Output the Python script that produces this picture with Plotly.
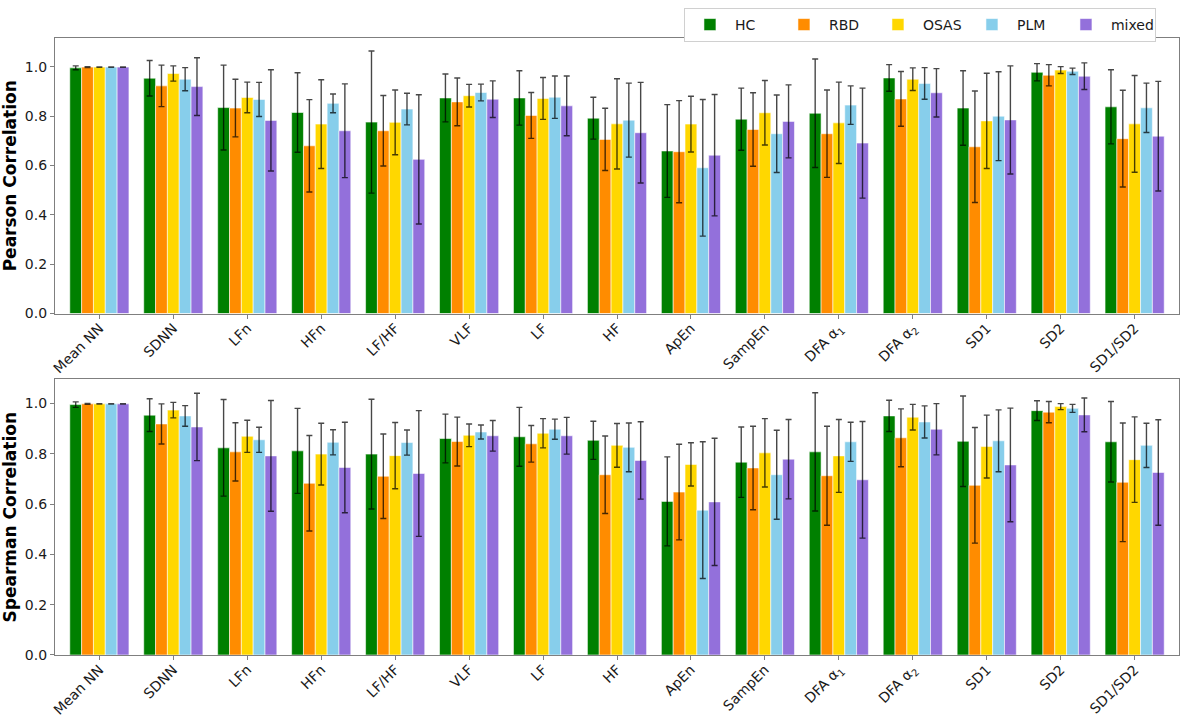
import plotly.graph_objects as go

categories = ["Mean NN", "SDNN", "LFn", "HFn", "LF/HF", "VLF", "LF", "HF", "ApEn",
              "SampEn", "DFA α<sub>1</sub>", "DFA α<sub>2</sub>", "SD1", "SD2", "SD1/SD2"]
groups = ["HC", "RBD", "OSAS", "PLM", "mixed"]
colors = ["#008000", "#FF8C00", "#FFD700", "#87CEEB", "#9370DB"]

# Pearson correlation (mean, std)
pearson_hc = [0.996, 0.954, 0.835, 0.815, 0.776, 0.874, 0.874, 0.792, 0.659, 0.788, 0.812, 0.955, 0.833, 0.978, 0.838]
pearson_hc_err = [0.008, 0.072, 0.172, 0.161, 0.288, 0.097, 0.110, 0.085, 0.188, 0.126, 0.220, 0.054, 0.151, 0.035, 0.150]
pearson_rbd = [0.999, 0.923, 0.833, 0.680, 0.741, 0.858, 0.803, 0.706, 0.656, 0.746, 0.729, 0.870, 0.676, 0.966, 0.709]
pearson_rbd_err = [0.002, 0.084, 0.117, 0.187, 0.143, 0.097, 0.093, 0.126, 0.207, 0.149, 0.177, 0.111, 0.226, 0.043, 0.196]
pearson_osas = [0.999, 0.973, 0.876, 0.768, 0.775, 0.883, 0.872, 0.769, 0.768, 0.814, 0.773, 0.950, 0.781, 0.987, 0.769]
pearson_osas_err = [0.001, 0.031, 0.062, 0.180, 0.131, 0.046, 0.085, 0.183, 0.113, 0.131, 0.165, 0.046, 0.193, 0.014, 0.196]
pearson_plm = [0.999, 0.950, 0.868, 0.852, 0.829, 0.896, 0.877, 0.784, 0.591, 0.729, 0.845, 0.933, 0.800, 0.982, 0.834]
pearson_plm_err = [0.001, 0.047, 0.069, 0.038, 0.064, 0.034, 0.086, 0.150, 0.277, 0.157, 0.078, 0.064, 0.180, 0.013, 0.100]
pearson_mixed = [0.999, 0.920, 0.783, 0.741, 0.625, 0.869, 0.842, 0.733, 0.642, 0.779, 0.691, 0.895, 0.785, 0.962, 0.719]
pearson_mixed_err = [0.001, 0.117, 0.205, 0.190, 0.262, 0.074, 0.121, 0.204, 0.246, 0.148, 0.223, 0.098, 0.219, 0.054, 0.222]

# Spearman correlation (mean, std)
spearman_hc = [0.996, 0.954, 0.824, 0.812, 0.799, 0.861, 0.868, 0.854, 0.611, 0.767, 0.808, 0.951, 0.850, 0.972, 0.848]
spearman_hc_err = [0.011, 0.065, 0.192, 0.169, 0.218, 0.097, 0.117, 0.076, 0.177, 0.140, 0.235, 0.062, 0.180, 0.039, 0.160]
spearman_rbd = [0.999, 0.919, 0.808, 0.683, 0.711, 0.849, 0.840, 0.717, 0.648, 0.744, 0.713, 0.864, 0.675, 0.966, 0.687]
spearman_rbd_err = [0.002, 0.080, 0.116, 0.190, 0.168, 0.097, 0.073, 0.154, 0.190, 0.166, 0.197, 0.115, 0.230, 0.042, 0.236]
spearman_osas = [0.999, 0.974, 0.870, 0.799, 0.793, 0.874, 0.882, 0.834, 0.758, 0.804, 0.792, 0.946, 0.829, 0.988, 0.777]
spearman_osas_err = [0.001, 0.031, 0.064, 0.123, 0.132, 0.045, 0.058, 0.087, 0.086, 0.136, 0.145, 0.051, 0.125, 0.012, 0.170]
spearman_plm = [0.999, 0.951, 0.856, 0.846, 0.845, 0.887, 0.898, 0.826, 0.576, 0.717, 0.848, 0.927, 0.852, 0.981, 0.834]
spearman_plm_err = [0.001, 0.041, 0.050, 0.050, 0.050, 0.028, 0.040, 0.097, 0.272, 0.177, 0.078, 0.064, 0.123, 0.016, 0.088]
spearman_mixed = [0.999, 0.907, 0.792, 0.746, 0.722, 0.872, 0.872, 0.774, 0.609, 0.779, 0.697, 0.898, 0.756, 0.955, 0.726]
spearman_mixed_err = [0.001, 0.134, 0.220, 0.180, 0.250, 0.061, 0.073, 0.154, 0.253, 0.158, 0.232, 0.102, 0.226, 0.067, 0.210]

pearson = [(pearson_hc, pearson_hc_err), (pearson_rbd, pearson_rbd_err), (pearson_osas, pearson_osas_err),
           (pearson_plm, pearson_plm_err), (pearson_mixed, pearson_mixed_err)]
spearman = [(spearman_hc, spearman_hc_err), (spearman_rbd, spearman_rbd_err), (spearman_osas, spearman_osas_err),
            (spearman_plm, spearman_plm_err), (spearman_mixed, spearman_mixed_err)]

FONT = "DejaVu Sans"
TXT = "#1a1a1a"
fig = go.Figure()

for panel, (data, xa, ya) in enumerate([(pearson, "x", "y"), (spearman, "x2", "y2")]):
    for g, (name, col, (vals, errs)) in enumerate(zip(groups, colors, data)):
        fig.add_trace(go.Bar(
            x=categories, y=vals, name=name, legendgroup=name,
            showlegend=(panel == 0), xaxis=xa, yaxis=ya,
            marker=dict(color=col, line=dict(color="rgba(255,255,255,0.7)", width=0.8)),
            error_y=dict(type="data", array=errs, visible=True,
                         color="rgba(0,0,0,0.72)", thickness=1.4, width=3),
        ))

axis_line = dict(showline=True, linecolor="#7f7f7f", linewidth=1.2, mirror=True,
                 ticks="outside", ticklen=4, tickcolor="#7f7f7f", showgrid=False,
                 zeroline=False, automargin=False)

xcommon = dict(axis_line, tickangle=-45, tickfont=dict(family=FONT, size=14, color=TXT),
               range=[-0.6, 14.6], ticklabelstandoff=-4)
ycommon = dict(axis_line, tickvals=[0, 0.2, 0.4, 0.6, 0.8, 1.0], tickformat=".1f",
               tickfont=dict(family=FONT, size=14, color=TXT))

fig.update_layout(
    width=1188, height=720,
    margin=dict(l=55, r=9, t=37, b=65),
    paper_bgcolor="white", plot_bgcolor="white",
    barmode="group", bargap=0.2, bargroupgap=0,
    font=dict(family=FONT, size=13, color=TXT),
    xaxis=dict(xcommon, domain=[0, 1], anchor="y"),
    yaxis=dict(ycommon, domain=[0.5534, 1], anchor="x", range=[0, 1.117],
               title=dict(text="<b>Pearson Correlation</b>", standoff=3,
                          font=dict(family=FONT, size=17, color="black"))),
    xaxis2=dict(xcommon, domain=[0, 1], anchor="y2"),
    yaxis2=dict(ycommon, domain=[0, 0.4466], anchor="x2", range=[0, 1.096],
                title=dict(text="<b>Spearman Correlation</b>", standoff=3,
                           font=dict(family=FONT, size=17, color="black"))),
    legend=dict(orientation="h", x=0.9795, xanchor="right", y=1.047, yanchor="top",
                bgcolor="white", bordercolor="#d0d0d0", borderwidth=1,
                font=dict(family=FONT, size=14, color=TXT),
                itemwidth=40, entrywidth=39, entrywidthmode="pixels",
                traceorder="normal"),
)

fig.write_html("out.html")
